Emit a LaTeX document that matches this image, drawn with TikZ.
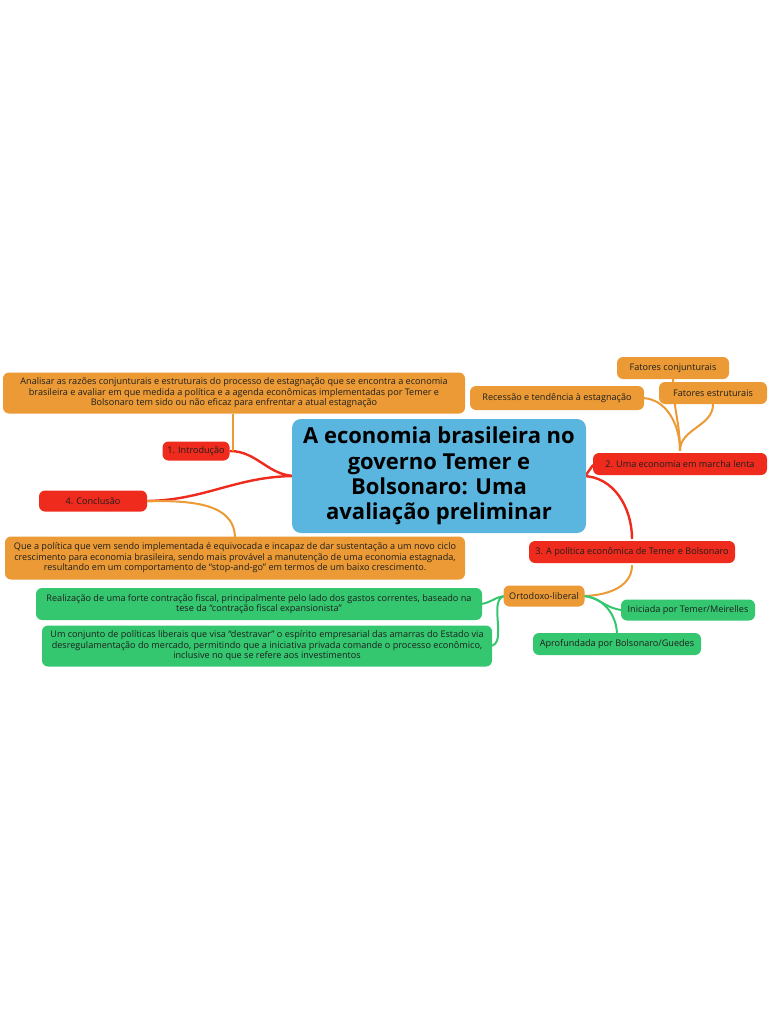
\documentclass[tikz,border=0pt]{standalone}
\usepackage{fontspec}
\setmainfont{Open Sans}
\usetikzlibrary{positioning,backgrounds}
\definecolor{myorange}{HTML}{EB9A35}
\definecolor{myred}{HTML}{EE2B1C}
\definecolor{mygreen}{HTML}{34C76F}
\definecolor{myblue}{HTML}{5AB5DF}
\definecolor{mytext}{HTML}{1E1E1E}
\tikzset{
  box/.style={rounded corners=6pt, align=center, inner sep=0pt, text=mytext,
              font=\fontsize{9.1}{10.6}\selectfont},
  orangebox/.style={box, fill=myorange},
  redbox/.style={box, fill=myred},
  greenbox/.style={box, fill=mygreen},
  titlebox/.style={box, fill=myblue, rounded corners=9pt, text=black,
                   font=\bfseries\fontsize{22}{25.3}\selectfont},
  redline/.style={draw=myred, line width=2.4pt},
  orangeline/.style={draw=myorange, line width=2pt},
  greenline/.style={draw=mygreen, line width=2pt},
}

\begin{document}
\begin{tikzpicture}[x=1pt,y=-1pt]
    \useasboundingbox (0,0) rectangle (768,1024);
    % main topic
    \node[titlebox, minimum width=294pt, minimum height=114pt] (title) at (439,476)
      {A economia brasileira no\\governo Temer e\\Bolsonaro: Uma\\avaliação preliminar};
    % left side
    \node[redbox, minimum width=67pt, minimum height=19pt] (intro) at (196,451) {1. Introdução};
    \node[redbox, minimum width=108pt, minimum height=21pt] (concl) at (93,501) {4. Conclusão};
    \node[orangebox, minimum width=462pt, minimum height=41pt] (goal) at (234,393)
      {Analisar as razões conjunturais e estruturais do processo de estagnação que se encontra a economia\\
       brasileira e avaliar em que medida a política e a agenda econômicas implementadas por Temer e\\
       Bolsonaro tem sido ou não eficaz para enfrentar a atual estagnação};
    \node[orangebox, minimum width=460pt, minimum height=43pt] (result) at (235,558)
      {Que a política que vem sendo implementada é equivocada e incapaz de dar sustentação a um novo ciclo\\
       crescimento para economia brasileira, sendo mais provável a manutenção de uma economia estagnada,\\
       resultando em um comportamento de ``stop-and-go'' em termos de um baixo crescimento.};
    % right side
    \node[redbox, minimum width=174pt, minimum height=22pt] (lenta) at (680,464) {2. Uma economia em marcha lenta};
    \node[orangebox, minimum width=112pt, minimum height=22pt] (conj) at (673,368) {Fatores conjunturais};
    \node[orangebox, minimum width=174pt, minimum height=24pt] (recess) at (557,398) {Recessão e tendência à estagnação};
    \node[orangebox, minimum width=108pt, minimum height=22pt] (estr) at (713,393) {Fatores estruturais};
    \node[redbox, minimum width=206pt, minimum height=22pt] (politica) at (632,552) {3. A política econômica de Temer e Bolsonaro};
    \node[orangebox, minimum width=81pt, minimum height=21pt] (orto) at (544,596) {Ortodoxo-liberal};
    \node[greenbox, minimum width=134pt, minimum height=21pt] (temer) at (688,610) {Iniciada por Temer/Meirelles};
    \node[greenbox, minimum width=168pt, minimum height=22pt] (bolso) at (617,644) {Aprofundada por Bolsonaro/Guedes};
    \node[greenbox, minimum width=446pt, minimum height=32pt] (fiscal) at (259,604)
      {Realização de uma forte contração fiscal, principalmente pelo lado dos gastos correntes, baseado na\\
       tese da ``contração fiscal expansionista''};
    \node[greenbox, minimum width=450pt, minimum height=41pt] (liberal) at (267,646)
      {Um conjunto de políticas liberais que visa ``destravar'' o espírito empresarial das amarras do Estado via\\
       desregulamentação do mercado, permitindo que a iniciativa privada comande o processo econômico,\\
       inclusive no que se refere aos investimentos};
    % branches
    \begin{pgfonlayer}{background}
      \draw[redline] ([xshift=4pt]title.west) to[out=180, in=0] (intro.east);
      \draw[redline] ([xshift=4pt]title.west) to[out=180, in=0] ([xshift=-3pt]concl.east);
      \draw[orangeline] ([xshift=3pt]intro.east) -- ([xshift=3pt]intro.east |- goal.south);
      \draw[orangeline] ([xshift=-3pt]concl.east) to[out=0, in=90] ([yshift=-2pt]result.north);
      \draw[redline] ([xshift=-4pt]title.east) to[out=0, in=180] ([xshift=4pt]lenta.west);
      \draw[redline] ([xshift=-4pt]title.east) to[out=0, in=90] ([yshift=2pt]politica.north);
      \draw[orangeline] ([yshift=2pt]lenta.north) to[out=90, in=0] ([xshift=-3pt]recess.east);
      \draw[orangeline] ([yshift=2pt]lenta.north) to[out=90, in=-90] (conj.south);
      \draw[orangeline] ([yshift=2pt]lenta.north) to[out=90, in=-90] (estr.south);
      \draw[orangeline] ([yshift=-2pt]politica.south) to[out=-90, in=0] ([xshift=-3pt]orto.east);
      \draw[greenline] ([xshift=3pt]orto.west) to[out=180, in=0] ([xshift=-3pt]fiscal.east);
      \draw[greenline] ([xshift=3pt]orto.west) to[out=180, in=0] ([xshift=-3pt]liberal.east);
      \draw[greenline] ([xshift=-3pt]orto.east) to[out=0, in=180] ([xshift=3pt]temer.west);
      \draw[greenline] ([xshift=-3pt]orto.east) to[out=0, in=90] ([yshift=-2pt]bolso.north);
    \end{pgfonlayer}
\end{tikzpicture}
\end{document}
